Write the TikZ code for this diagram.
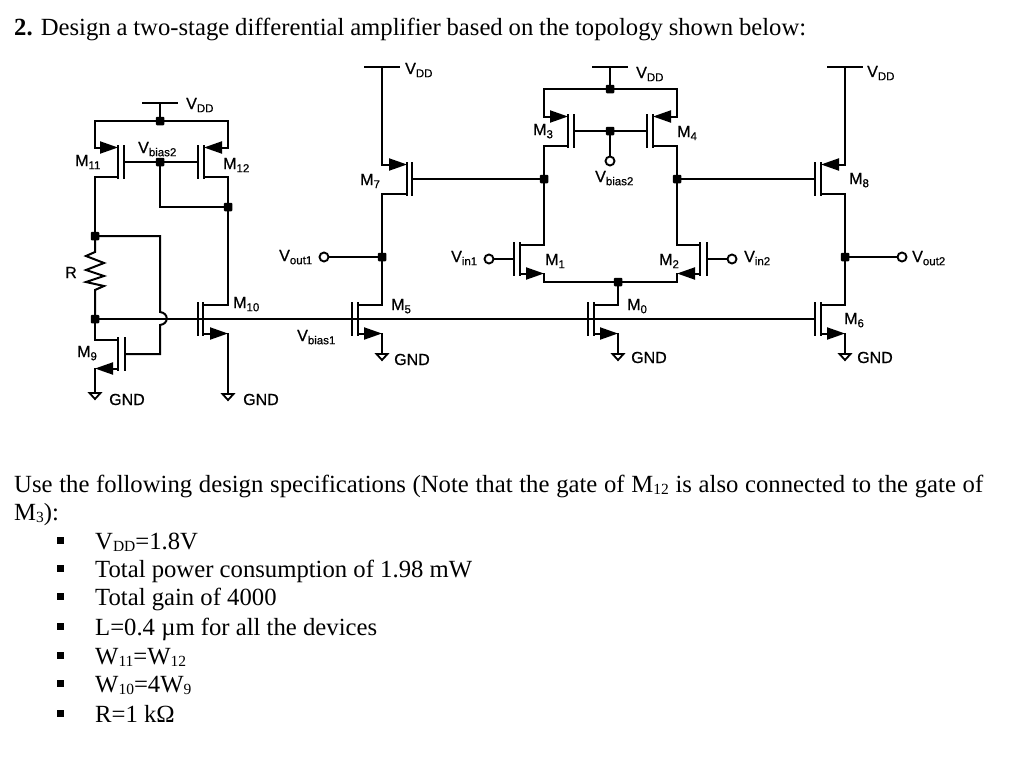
\documentclass[tikz,border=0pt]{standalone}
\usepackage{fontspec}
\setmainfont{Liberation Serif}
\newfontfamily\lblfont{Liberation Sans}[BoldFont={Liberation Sans},BoldFeatures={FakeBold=0.6}]
\usetikzlibrary{arrows.meta,calc}
\newcommand{\lsb}[1]{\raisebox{-0.2em}{\fontsize{11.5}{12}\selectfont #1}}
\newcommand{\tsb}[1]{\raisebox{-0.12em}{\fontsize{15.5}{16}\selectfont #1}}
\tikzset{
  wire/.style={line width=2pt,line join=miter,line cap=rect},
  bar/.style={line width=2.5pt},
  tip/.style={wire,-{Triangle[length=18pt,width=12pt]}},
  dot/.style={draw=none,fill=black,rectangle,rounded corners=1pt,minimum size=8.5pt,inner sep=0pt},
  term/.style={circle,draw=black,fill=white,line width=1.9pt,minimum size=9pt,inner sep=0pt},
  lbl/.style={anchor=base west,inner sep=0pt,font=\lblfont\bfseries\fontsize{16}{18}\selectfont},
  body/.style={anchor=base west,inner sep=0pt,font=\fontsize{24.7}{26}\selectfont},
  bul/.style={fill=black,rectangle,minimum size=7pt,inner sep=0pt},
}
\newcommand{\fet}[4]{%
  \draw[bar] (#2,#4-17) -- (#2,#4+17);
  \draw[bar] (#3,#4-17) -- (#3,#4+17);
  \coordinate (#1-g) at (#2,#4);
  \coordinate (#1-c) at (#3,#4);
  \coordinate (#1-t) at (#3,#4-14.5);
  \coordinate (#1-b) at (#3,#4+14.5);}
\newcommand{\vdd}[3]{%
  \coordinate (#1) at (#2,#3);
  \draw[wire] (#2-17,#3) -- (#2+17,#3);}
\newcommand{\gnd}[3]{%
  \coordinate (#1) at (#2,#3);
  \draw[line width=1.8pt,line join=miter,fill=white] (#2-5.5,#3) -- (#2+5.5,#3) -- (#2,#3+6) -- cycle;}
\begin{document}
\begin{tikzpicture}[x=1pt,y=-1pt]
\useasboundingbox (0,0) rectangle (1024,768);
\fill[white] (0,0) rectangle (1024,768);

% ---- transistors
\fet{m11}{124}{118}{162}
\fet{m12}{198}{204}{162}
\fet{m10}{198}{203}{319}
\fet{m9}{125}{118}{354}
\fet{m7}{412}{407}{179}
\fet{m5}{352}{358}{319}
\fet{m3}{574}{568}{131}
\fet{m4}{647}{653}{131}
\fet{m1}{514}{520}{259}
\fet{m2}{707}{700}{259}
\fet{m0}{588}{594}{319}
\fet{m8}{815}{821}{179}
\fet{m6}{815}{821}{319}

% ---- supplies
\vdd{va}{160}{103}
\vdd{vb}{382}{67}
\vdd{vc}{610}{67}
\vdd{vd}{845}{67}
\gnd{g9}{95}{393}
\gnd{g10}{228}{394}
\gnd{g5}{382}{354}
\gnd{g0}{618}{354}
\gnd{g6}{845}{354}

% ---- junctions
\node[dot] (da) at (160,121) {};
\node[dot] (db) at (160,162) {};
\node[dot] (dc) at (228,207) {};
\node[dot] (dr) at (95,236) {};
\node[dot] (de) at (95,319) {};
\node[dot] (dout1) at (382,257) {};
\node[dot] (dtop) at (610,89) {};
\node[dot] (dg) at (610,131) {};
\node[dot] (d3) at (544,179) {};
\node[dot] (d4) at (677,179) {};
\node[dot] (dt) at (618,282) {};
\node[dot] (d8) at (845,257) {};

% ---- terminals
\node[term] (co1) at (324,257) {};
\node[term] (cb) at (610,161) {};
\node[term] (ci1) at (489,259) {};
\node[term] (ci2) at (732,259) {};
\node[term] (co2) at (902,257) {};

% ---- corner points
\coordinate (j11) at (95,147.5);
\coordinate (j12) at (228,147.5);
\coordinate (j9) at (95,368.5);
\coordinate (j10) at (228,333.5);
\coordinate (j7) at (382,164.5);
\coordinate (j5) at (382,333.5);
\coordinate (j3) at (544,116.5);
\coordinate (j4) at (677,116.5);
\coordinate (j1) at (544,273.5);
\coordinate (j2) at (677,273.5);
\coordinate (j0) at (618,333.5);
\coordinate (j8) at (845,164.5);
\coordinate (j6) at (845,333.5);
\coordinate (bt) at (160,312);
\coordinate (bb) at (160,325);

% ---- left bias branch
\draw[wire] (va) -- (da);
\draw[tip] (da) -| (j11) -- (m11-t);
\draw[tip] (da) -| (j12) -- (m12-t);
\draw[wire] (m11-g) -- (db) -- (m12-g);
\draw[wire] (db) |- (dc);
\draw[wire] (m12-b) -| (dc);
\draw[wire] (dc) |- (m10-t);
\draw[wire] (m11-b) -| (dr);
\draw[wire] (dr) -| (bt) .. controls (169,313) and (169,324) .. (bb) |- (m9-g);
\draw[wire] (dr) -- (95,252) -- (86,256) -- (104,263) -- (86,270) -- (104,276) -- (86,282) -- (104,286) -- (95,290) -- (de);
\draw[wire] (de) -- (m6-g);
\draw[wire] (m9-t) -| (de);
\draw[tip] (m9-b) -- (j9);
\draw[wire] (j9) -- (g9);
\draw[tip] (m10-b) -- (j10);
\draw[wire] (j10) -- (g10);

% ---- first output stage
\draw[tip] (vb) -- (j7) -- (m7-t);
\draw[wire] (m7-b) -| (dout1);
\draw[wire] (dout1) |- (m5-t);
\draw[wire] (co1) -- (dout1);
\draw[tip] (m5-b) -- (j5);
\draw[wire] (j5) -- (g5);
\draw[wire] (m7-g) -- (d3);

% ---- differential pair
\draw[wire] (vc) -- (dtop);
\draw[tip] (dtop) -| (j3) -- (m3-t);
\draw[tip] (dtop) -| (j4) -- (m4-t);
\draw[wire] (m3-g) -- (dg) -- (m4-g);
\draw[wire] (dg) -- (cb);
\draw[wire] (m3-b) -| (d3);
\draw[wire] (m4-b) -| (d4);
\draw[wire] (d3) |- (m1-t);
\draw[wire] (d4) |- (m2-t);
\draw[wire] (d4) -- (m8-g);
\draw[tip] (m1-b) -- (j1);
\draw[tip] (m2-b) -- (j2);
\draw[wire] (j1) |- (dt);
\draw[wire] (j2) |- (dt);
\draw[wire] (ci1) -- (m1-g);
\draw[wire] (ci2) -- (m2-g);
\draw[wire] (dt) |- (m0-t);
\draw[tip] (m0-b) -- (j0);
\draw[wire] (j0) -- (g0);

% ---- second output stage
\draw[tip] (vd) -- (j8) -- (m8-t);
\draw[wire] (m8-b) -| (d8);
\draw[wire] (d8) |- (m6-t);
\draw[wire] (d8) -- (co2);
\draw[tip] (m6-b) -- (j6);
\draw[wire] (j6) -- (g6);

% ---- schematic labels
\node[lbl] (t1) at (186,109) {V\lsb{DD}};
\node[lbl] (t2) at (405,74) {V\lsb{DD}};
\node[lbl] (t3) at (636,78) {V\lsb{DD}};
\node[lbl] (t4) at (867,77) {V\lsb{DD}};
\node[lbl] (t5) at (75,166) {M\lsb{11}};
\node[lbl] (t6) at (138,153) {V\lsb{bias2}};
\node[lbl] (t7) at (223,169) {M\lsb{12}};
\node[lbl] (t8) at (65,278) {R};
\node[lbl] (t9) at (233,308) {M\lsb{10}};
\node[lbl] (t10) at (77,357) {M\lsb{9}};
\node[lbl] (t11) at (109,405) {GND};
\node[lbl] (t12) at (243,405) {GND};
\node[lbl] (t13) at (279,261) {V\lsb{out1}};
\node[lbl] (t14) at (297,341) {V\lsb{bias1}};
\node[lbl] (t15) at (360,185) {M\lsb{7}};
\node[lbl] (t16) at (391,310) {M\lsb{5}};
\node[lbl] (t17) at (394,365) {GND};
\node[lbl] (t18) at (451,262) {V\lsb{in1}};
\node[lbl] (t19) at (533,135) {M\lsb{3}};
\node[lbl] (t20) at (677,137) {M\lsb{4}};
\node[lbl] (t21) at (595,182) {V\lsb{bias2}};
\node[lbl] (t22) at (545,265) {M\lsb{1}};
\node[lbl] (t23) at (659,265) {M\lsb{2}};
\node[lbl] (t24) at (627,310) {M\lsb{0}};
\node[lbl] (t25) at (631,363) {GND};
\node[lbl] (t26) at (849,184) {M\lsb{8}};
\node[lbl] (t27) at (744,262) {V\lsb{in2}};
\node[lbl] (t28) at (912,262) {V\lsb{out2}};
\node[lbl] (t29) at (844,324) {M\lsb{6}};
\node[lbl] (t30) at (857,363) {GND};

% ---- body text
\node[body] (b1) at (14,36) {\makebox[792pt][s]{\textbf{2.} Design a two-stage differential amplifier based on the topology shown below:}};
\node[body] (b2) at (14,492) {\makebox[969pt][s]{Use the following design specifications (Note that the gate of M\tsb{12} is also connected to the gate of}};
\node[body] (b3) at (14,520) {M\tsb{3}):};
\node[bul] (s1) at (60,540) {};
\node[bul] (s2) at (60,568) {};
\node[bul] (s3) at (60,596) {};
\node[bul] (s4) at (60,626) {};
\node[bul] (s5) at (60,655) {};
\node[bul] (s6) at (60,683) {};
\node[bul] (s7) at (60,713) {};
\node[body] (l1) at (95,549) {V\tsb{DD}=1.8V};
\node[body] (l2) at (95,577) {Total power consumption of 1.98 mW};
\node[body] (l3) at (95,605) {Total gain of 4000};
\node[body] (l4) at (95,635) {L=0.4 µm for all the devices};
\node[body] (l5) at (95,664) {W\tsb{11}=W\tsb{12}};
\node[body] (l6) at (95,692) {W\tsb{10}=4W\tsb{9}};
\node[body] (l7) at (95,722) {R=1 kΩ};
\end{tikzpicture}
\end{document}
